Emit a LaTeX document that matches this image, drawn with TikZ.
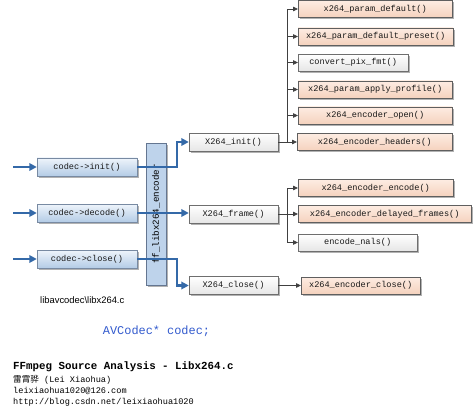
\documentclass[tikz,border=0pt]{standalone}
\usepackage{fontspec}
\setmonofont{Liberation Mono}
\setsansfont{Liberation Sans}
\newfontfamily\cjk{Noto Sans CJK SC}
\usetikzlibrary{arrows.meta,shadows}
\definecolor{barrow}{RGB}{52,105,168}
\definecolor{btop}{RGB}{238,244,251}
\definecolor{bbot}{RGB}{180,204,230}
\definecolor{bdraw}{RGB}{120,138,162}
\definecolor{otop}{RGB}{253,236,226}
\definecolor{obot}{RGB}{245,210,190}
\definecolor{odraw}{RGB}{95,95,95}
\definecolor{gtop}{RGB}{255,255,255}
\definecolor{gbot}{RGB}{230,230,230}
\definecolor{gdraw}{RGB}{110,110,110}
\definecolor{barfill}{RGB}{190,211,235}
\definecolor{bardraw}{RGB}{100,118,145}
\definecolor{codeblue}{RGB}{50,90,205}
\tikzset{
  x=1pt,y=-1pt,
  boxbase/.style={inner sep=0pt, minimum height=17pt, text=black!90, font=\ttfamily\fontsize{8.6}{10}\selectfont,
    drop shadow={shadow xshift=1.8pt, shadow yshift=-1.8pt, opacity=0.3, fill=black}},
  bluebox/.style={boxbase, draw=bdraw, top color=btop, bottom color=bbot, minimum height=18pt},
  orangebox/.style={boxbase, draw=odraw, top color=otop, bottom color=obot},
  graybox/.style={boxbase, draw=gdraw, top color=gtop, bottom color=gbot},
  bluearr/.style={draw=barrow, line width=2.4pt, -{Triangle[length=7.5pt,width=7.5pt]}},
  grayarr/.style={draw=black!75, line width=0.8pt, -{Triangle[length=5pt,width=4.5pt]}},
  grayline/.style={draw=black!75, line width=0.8pt},
}
\begin{document}
\begin{tikzpicture}
\useasboundingbox (0,0) rectangle (474,417);
% left boxes
\node[bluebox, minimum width=100pt] (init) at (87,167) {codec->init()};
\node[bluebox, minimum width=100pt] (decode) at (87,213) {codec->decode()};
\node[bluebox, minimum width=100pt] (close) at (87,259) {codec->close()};
% bar
\node[draw=bardraw, fill=barfill, minimum width=20pt, minimum height=142pt, inner sep=0pt,
  drop shadow={shadow xshift=1.8pt, shadow yshift=-1.8pt, opacity=0.3, fill=black}] (bar) at (156,214) {};
\node[rotate=90, font=\ttfamily\fontsize{9.2}{10}\selectfont, inner sep=0pt] (bartext) at (156,214) {ff\_libx264\_encoder};
% middle boxes
\node[graybox, minimum width=89pt, minimum height=18pt] (xinit) at (233.5,142) {X264\_init()};
\node[graybox, minimum width=89pt, minimum height=18pt] (xframe) at (233.5,214) {X264\_frame()};
\node[graybox, minimum width=89pt, minimum height=18pt] (xclose) at (233.5,285.5) {X264\_close()};
% right boxes
\node[orangebox, minimum width=154pt, anchor=west] (pd) at (298,9) {x264\_param\_default()};
\node[orangebox, minimum width=155pt, anchor=west] (pdp) at (298,36.5) {x264\_param\_default\_preset()};
\node[graybox, minimum width=110pt, anchor=west] (cpf) at (298,62.5) {convert\_pix\_fmt()};
\node[orangebox, minimum width=154pt, anchor=west] (pap) at (298,89.5) {x264\_param\_apply\_profile()};
\node[orangebox, minimum width=154pt, anchor=west] (eo) at (298,115.5) {x264\_encoder\_open()};
\node[orangebox, minimum width=155pt, anchor=west] (eh) at (297,142) {x264\_encoder\_headers()};
\node[orangebox, minimum width=155pt, anchor=west] (ee) at (298,188) {x264\_encoder\_encode()};
\node[orangebox, minimum width=173pt, anchor=west] (edf) at (298,214) {x264\_encoder\_delayed\_frames()};
\node[graybox, minimum width=119pt, anchor=west] (en) at (298,242.5) {encode\_nals()};
\node[orangebox, minimum width=119pt, anchor=west] (ec) at (301,285.5) {x264\_encoder\_close()};
% input arrows
\coordinate (in1) at (13,167);
\coordinate (in2) at (13,213);
\coordinate (in3) at (13,259);
\draw[bluearr] (in1) -- (init.west);
\draw[bluearr] (in2) -- (decode.west);
\draw[bluearr] (in3) -- (close.west);
% through the bar
\draw[bluearr] (init.east) -- (177,167) |- (xinit.west);
\draw[bluearr] (decode.east) -- (decode.east -| xframe.west);
\draw[bluearr] (close.east) -- (177,259) |- (xclose.west);
% init calls
\coordinate (vi) at (287,142);
\draw[grayarr] (xinit.east) -- (eh.west);
\draw[grayline] (vi) -- (287,9);
\foreach \n in {pd,pdp,cpf,pap,eo}{
  \draw[grayarr] (vi |- \n.west) -- (\n.west);
}
% frame calls
\coordinate (vf) at (287,214);
\draw[grayline] (xframe.east) -- (vf);
\draw[grayline] (287,188) -- (287,242.5);
\foreach \n in {ee,edf,en}{
  \draw[grayarr] (vf |- \n.west) -- (\n.west);
}
% close call
\draw[grayarr] (xclose.east) -- (ec.west);
% texts
\node[font=\sffamily\fontsize{9.4}{11}\selectfont, inner sep=0pt, anchor=west] (path) at (40,300) {libavcodec\textbackslash libx264.c};
\node[font=\ttfamily\fontsize{11.9}{14}\selectfont, text=codeblue, inner sep=0pt] (avc) at (156.5,331) {AVCodec* codec;};
\node[font=\ttfamily\bfseries\fontsize{10.8}{12}\selectfont, inner sep=0pt, anchor=west] (title) at (13,367) {FFmpeg Source Analysis - Libx264.c};
\node[font=\ttfamily\fontsize{8.6}{10}\selectfont, inner sep=0pt, anchor=west] (author) at (13,380) {{\cjk 雷霄骅} (Lei Xiaohua)};
\node[font=\ttfamily\fontsize{8.6}{10}\selectfont, inner sep=0pt, anchor=west] (mail) at (13,391) {leixiaohua1020@126.com};
\node[font=\ttfamily\fontsize{8.6}{10}\selectfont, inner sep=0pt, anchor=west] (url) at (13,402) {http://blog.csdn.net/leixiaohua1020};
\end{tikzpicture}
\end{document}
